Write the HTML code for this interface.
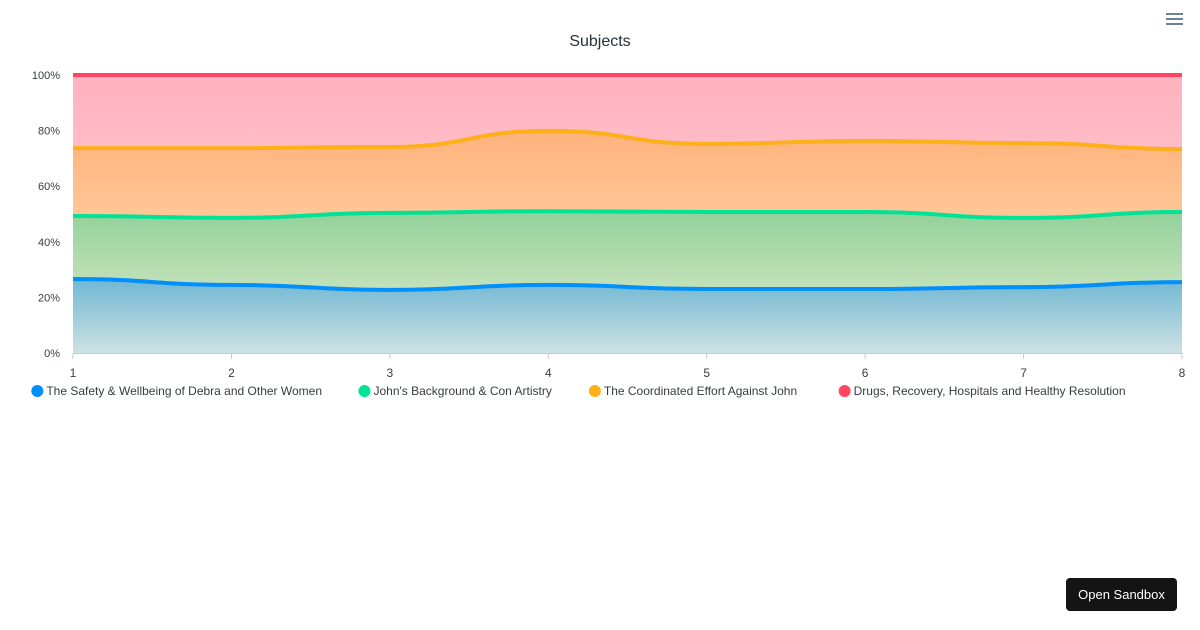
<!DOCTYPE html>
<html><head><meta charset="utf-8"><style>
body{margin:0;width:1200px;height:630px;background:#fff;font-family:"Liberation Sans",Arial,sans-serif;position:relative;overflow:hidden}
.btn{position:absolute;left:1066px;top:578px;width:111px;height:33px;background:#141414;color:#fff;border-radius:4px;font-size:13px;line-height:33px;text-align:center}
.menu{position:absolute;left:1166px;top:13px;width:17px}
.menu div{height:2px;background:#6e8192;margin-bottom:3px}
</style></head><body>
<svg id="chart" width="1200" height="630" style="position:absolute;left:0;top:0">
<defs>
<linearGradient id="g0" x1="0" y1="0" x2="0" y2="1"><stop offset="0" stop-color="#70b7d3"/><stop offset="1" stop-color="#cde2e2"/></linearGradient>
<linearGradient id="g1" x1="0" y1="0" x2="0" y2="1"><stop offset="0" stop-color="#92d19a"/><stop offset="1" stop-color="#c4e2ba"/></linearGradient>
<linearGradient id="g2" x1="0" y1="0" x2="0" y2="1"><stop offset="0" stop-color="#ffb27c"/><stop offset="1" stop-color="#ffc797"/></linearGradient>
<linearGradient id="g3" x1="0" y1="0" x2="0" y2="1"><stop offset="0" stop-color="#ffb2bf"/><stop offset="1" stop-color="#ffbcc6"/></linearGradient>
</defs>
<text x="600" y="46" text-anchor="middle" font-size="16" fill="#263238">Subjects</text>
<g id="plot"></g>
</svg>
<div class="menu"><div></div><div></div><div></div></div>
<div class="btn">Open Sandbox</div>
<script>
const categories = ["1","2","3","4","5","6","7","8"];
const seriesNames = ["The Safety & Wellbeing of Debra and Other Women","John's Background & Con Artistry","The Coordinated Effort Against John","Drugs, Recovery, Hospitals and Healthy Resolution"];
const safety = [26.6,24.5,22.7,24.5,23,23,23.7,25.5];
const background = [22.7,24.1,27.7,26.5,27.7,27.7,24.9,25.2];
const effort = [24.4,25.1,23.7,28.9,24.5,25.6,26.9,22.7];
const drugs = [26.3,26.3,25.9,20.1,24.8,23.7,24.5,26.6];
const yTicks = ["0%","20%","40%","60%","80%","100%"];
const colors = ["#008FFB","#00E396","#FEB019","#FF4560"];
const fills = ["url(#g0)","url(#g1)","url(#g2)","url(#g3)"];
const series = [safety,background,effort,drugs];
const L=73,R=1182,T=75,B=353;
const xs = i => L + i*(R-L)/(categories.length-1);
const ys = p => B - p/100*(B-T);
const NS="http://www.w3.org/2000/svg";
const g=document.getElementById('plot');
function mk(t,a){const e=document.createElementNS(NS,t);for(const k in a)e.setAttribute(k,a[k]);g.appendChild(e);return e;}
// grid
yTicks.forEach((t,i)=>{const y=ys(i*20);
 if(i>0&&i<5){const l=mk('line',{x1:L,x2:R,y1:y,y2:y,stroke:'#e6e6e6','stroke-width':1,'stroke-opacity':0.6});
 }
 const tx=mk('text',{x:60,y:y+4,'text-anchor':'end','font-size':11,fill:'#373d3f'});tx.textContent=t;
 });
// cumulative
const n=categories.length;const cum=[];let base=new Array(n).fill(0);
const totals=categories.map((c,i)=>series.reduce((s,a)=>s+a[i],0));
series.forEach((s,k)=>{const top=base.map((b,i)=>b+s[i]/totals[i]*100);cum.push({lo:base,hi:top});base=top;});
function pathPts(arr){let d='';arr.forEach((v,i)=>{const x=xs(i),y=ys(v);
 if(i===0)d+=`M${x},${y}`;else{const px=xs(i-1),py=ys(arr[i-1]);const mx=(px+x)/2;d+=` C${mx},${py} ${mx},${y} ${x},${y}`;}});return d;}
function pathRev(arr){let d='';for(let i=arr.length-1;i>=0;i--){const x=xs(i),y=ys(arr[i]);
 if(i===arr.length-1)d+=` L${x},${y}`;else{const px=xs(i+1),py=ys(arr[i+1]);const mx=(px+x)/2;d+=` C${mx},${py} ${mx},${y} ${x},${y}`;}}return d+'Z';}
cum.forEach((c,k)=>{const a=mk('path',{d:pathPts(c.hi)+pathRev(c.lo),fill:fills[k],stroke:'none'});
 });
const ax=mk('line',{x1:L,x2:R,y1:B+0.5,y2:B+0.5,stroke:'#c8c8c8'});

categories.forEach((c,i)=>{const x=xs(i);
 const tk=mk('line',{x1:x,x2:x,y1:B,y2:B+6,stroke:'#c8c8c8'});
 const t=mk('text',{x:x,y:B+24,'text-anchor':'middle','font-size':12,fill:'#373d3f'});t.textContent=c;
 });
cum.forEach((c,k)=>{const l=mk('path',{d:pathPts(c.hi),fill:'none',stroke:colors[k],'stroke-width':4});
 });
// legend
const lg=mk('g',{});
const widths=seriesNames.map(s=>s.length*6.45);const gap=24;
let total=widths.reduce((a,b)=>a+b,0)+gap*4-10;let x0=600-total/2;
seriesNames.forEach((s,k)=>{const cc=document.createElementNS(NS,'circle');cc.setAttribute('cx',x0+6);cc.setAttribute('cy',391);cc.setAttribute('r',6);cc.setAttribute('fill',colors[k]);lg.appendChild(cc);
 
 const t=document.createElementNS(NS,'text');t.setAttribute('x',x0+15);t.setAttribute('y',395);t.setAttribute('font-size',12);t.setAttribute('fill','#373d3f');t.textContent=s;lg.appendChild(t);
 
 x0+=widths[k]+gap;});
</script>
</body></html>
